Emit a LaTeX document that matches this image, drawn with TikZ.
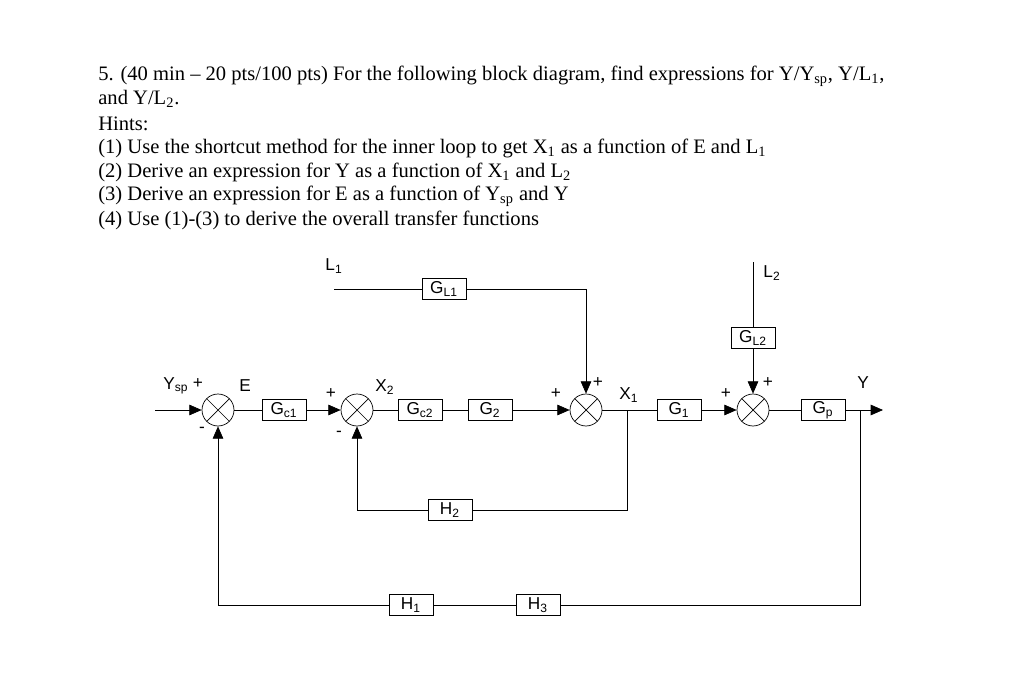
\documentclass[tikz,border=0pt]{standalone}
\usepackage{fontspec}
\setmainfont{Liberation Serif}
\newfontfamily\dsans{Liberation Sans}
\usetikzlibrary{arrows.meta}
\begin{document}
\begin{tikzpicture}[x=0.02cm,y=-0.02cm,
  blk/.style={draw,fill=white,minimum width=0.88cm,minimum height=0.42cm,inner sep=0pt,font=\dsans\fontsize{9.8}{11}\selectfont},
  sumc/.style={draw,circle,minimum size=0.64cm,inner sep=0pt,path picture={\draw (path picture bounding box.south west)--(path picture bounding box.north east) (path picture bounding box.north west)--(path picture bounding box.south east);}},
  lab/.style={font=\dsans\fontsize{9.8}{11}\selectfont,inner sep=0pt},
  arr/.style={-{Triangle[length=7pt,width=6pt]}},
  txt/.style={anchor=west,inner sep=0pt,font=\fontsize{11.7}{14}\selectfont}]
\useasboundingbox (0,0) rectangle (1024,696);
\node[txt] (t1) at (98,76) {5. (40 min -- 20 pts/100 pts) For the following block diagram, find expressions for Y/Y\textsubscript{sp}, Y/L\textsubscript{1},};
\node[txt] (t2) at (98,99) {and Y/L\textsubscript{2}.};
\node[txt] (t3) at (98,124) {Hints:};
\node[txt] (t4) at (98,148) {(1) Use the shortcut method for the inner loop to get X\textsubscript{1} as a function of E and L\textsubscript{1}};
\node[txt] (t5) at (98,172) {(2) Derive an expression for Y as a function of X\textsubscript{1} and L\textsubscript{2}};
\node[txt] (t6) at (98,196) {(3) Derive an expression for E as a function of Y\textsubscript{sp} and Y};
\node[txt] (t7) at (98,220) {(4) Use (1)-(3) to derive the overall transfer functions};

\node[sumc] (s1) at (218,410) {};
\node[sumc] (s2) at (357,410) {};
\node[sumc] (s3) at (586,410) {};
\node[sumc] (s4) at (753,410) {};
\node[blk] (gc1) at (284,410) {G\textsubscript{c1}};
\node[blk] (gc2) at (420,410) {G\textsubscript{c2}};
\node[blk] (g2) at (490,410) {G\textsubscript{2}};
\node[blk] (g1) at (679,410) {G\textsubscript{1}};
\node[blk] (gp) at (823,410) {G\textsubscript{p}};
\node[blk] (gl1) at (444,289) {G\textsubscript{L1}};
\node[blk] (gl2) at (753,338) {G\textsubscript{L2}};
\node[blk] (h2) at (450,510) {H\textsubscript{2}};
\node[blk] (h1) at (411,605) {H\textsubscript{1}};
\node[blk] (h3) at (538,605) {H\textsubscript{3}};
\coordinate (in) at (155,410);
\coordinate (l1) at (334,289);
\coordinate (l2) at (753,262);
\coordinate (x1) at (627,410);
\coordinate (yb) at (860,410);
\coordinate (out) at (883,410);

\draw[arr] (in) -- (s1);
\draw (s1) -- (gc1);
\draw[arr] (gc1) -- (s2);
\draw (s2) -- (gc2);
\draw (gc2) -- (g2);
\draw[arr] (g2) -- (s3);
\draw (s3) -- (g1);
\draw[arr] (g1) -- (s4);
\draw (s4) -- (gp);
\draw[arr] (gp) -- (out);
\draw (l1) -- (gl1);
\draw[arr] (gl1) -| (s3);
\draw (l2) -- (gl2);
\draw[arr] (gl2) -- (s4);
\draw (x1) |- (h2);
\draw[arr] (h2) -| (s2);
\draw (yb) |- (h3);
\draw (h3) -- (h1);
\draw[arr] (h1) -| (s1);

\node[lab] (ysp) at (176,386) {Y\textsubscript{sp}};
\node[lab] (p1) at (198,384) {+};
\node[lab] (m1) at (202,430) {-};
\node[lab] (e) at (245,386) {E};
\node[lab] (p2) at (331,394) {+};
\node[lab] (m2) at (339,434) {-};
\node[lab] (x2) at (385,387) {X\textsubscript{2}};
\node[lab] (p3) at (556,394) {+};
\node[lab] (p3b) at (598,383) {+};
\node[lab] (x1l) at (629,395) {X\textsubscript{1}};
\node[lab] (p4) at (726,394) {+};
\node[lab] (p4b) at (768,383) {+};
\node[lab] (yl) at (863,383) {Y};
\node[lab] (l1l) at (334,266) {L\textsubscript{1}};
\node[lab] (l2l) at (772,273) {L\textsubscript{2}};
\end{tikzpicture}
\end{document}
